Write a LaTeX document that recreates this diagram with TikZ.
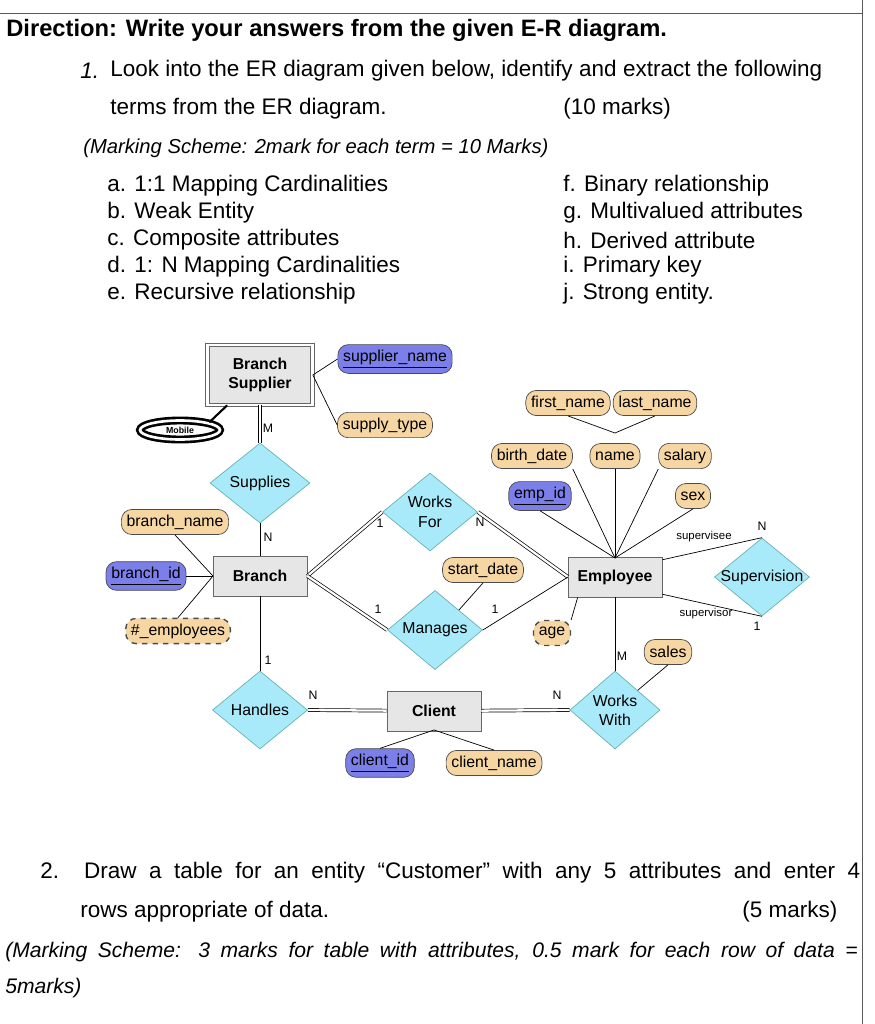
\documentclass[tikz,border=0pt]{standalone}
\usepackage{fontspec}
\setmainfont{Liberation Sans}
\usetikzlibrary{shapes,calc}

\definecolor{relblue}{HTML}{A8EAFA}
\definecolor{attrorange}{HTML}{F6D6A2}
\definecolor{keyblue}{HTML}{7C7EEA}
\definecolor{entgray}{HTML}{E6E6E6}

\tikzset{
  txt/.style={anchor=west,inner sep=0pt,font=\fontsize{12.8}{15}\selectfont},
  entity/.style={draw=gray!80!black,fill=entgray,minimum width=1.88cm,minimum height=0.8cm,font=\fontsize{9}{11}\selectfont\bfseries,align=center},
  rel/.style={diamond,draw=teal!60,fill=relblue,minimum width=1.9cm,minimum height=1.56cm,inner sep=0pt,font=\fontsize{9}{11}\selectfont,align=center},
  attr/.style={draw=black!70,fill=attrorange,rounded corners=6pt,minimum height=0.5cm,inner sep=3pt,font=\fontsize{9}{11}\selectfont},
  key/.style={attr,fill=keyblue},
  derived/.style={attr,dashed,thick},
  card/.style={inner sep=0pt,font=\fontsize{7}{8}\selectfont},
  role/.style={inner sep=0pt,font=\fontsize{6.5}{8}\selectfont},
  dbl/.style={double,double distance=1.3pt}
}

\begin{document}
\begin{tikzpicture}[x=0.02cm,y=-0.02cm]
\useasboundingbox (0,0) rectangle (875,1024);
\draw[gray!70!black] (0,13) -- (862,13);
\draw[gray!70!black] (862,0) -- (862,1024);

% question text
\node[txt,font=\fontsize{13.5}{15}\selectfont\bfseries] (dir) at (6,30) {Direction: Write your answers from the given E-R diagram.};
\node[txt] (q1) at (80,71) {\textit{1.}};
\node[txt] (q1a) at (110,71) {\makebox[14.24cm][s]{Look into the ER diagram given below, identify and extract the following}};
\node[txt] (q1b) at (110,109) {terms from the ER diagram.};
\node[txt] (q1m) at (563,109) {(10 marks)};
\node[txt,font=\fontsize{11.5}{13}\selectfont\itshape] (q1s) at (83,148) {(Marking Scheme: 2mark for each term = 10 Marks)};
\node[txt] (ta) at (107,186) {a. 1:1 Mapping Cardinalities};
\node[txt] (tb) at (107,213) {b. Weak Entity};
\node[txt] (tc) at (107,240) {c. Composite attributes};
\node[txt] (td) at (107,267) {d. 1: N Mapping Cardinalities};
\node[txt] (te) at (107,294) {e. Recursive relationship};
\node[txt] (tf) at (563,186) {f. Binary relationship};
\node[txt] (tg) at (563,213) {g. Multivalued attributes};
\node[txt] (th) at (563,240) {h. Derived attribute};
\node[txt] (ti) at (563,267) {i. Primary key};
\node[txt] (tj) at (563,294) {j. Strong entity.};
\node[txt] (q2) at (40,873) {\makebox[16.4cm][s]{2.\ \ Draw a table for an entity ``Customer'' with any 5 attributes and enter 4}};
\node[txt] (q2b) at (80,912) {rows appropriate of data.};
\node[txt] (q2m) at (742,912) {(5 marks)};
\node[txt,font=\fontsize{12}{13}\selectfont\itshape] (q2s) at (5,952) {\makebox[17.05cm][s]{(Marking Scheme: 3 marks for table with attributes, 0.5 mark for each row of data =}};
\node[txt,font=\fontsize{12}{13}\selectfont\itshape] (q2t) at (5,988) {5marks)};

% entities
\node[entity,minimum width=2.1cm,minimum height=1.2cm,double,double distance=1.5pt] (bsup) at (260,375) {Branch\\Supplier};
\node[entity] (branch) at (260,576) {Branch};
\node[entity] (emp) at (615,577) {Employee};
\node[entity] (client) at (434,711) {Client};

% relationships
\node[rel,minimum width=2cm,minimum height=1.6cm] (supplies) at (260,483) {Supplies};
\node[rel] (worksfor) at (430,512) {Works\\For};
\node[rel] (manages) at (435,630) {Manages};
\node[rel] (superv) at (762,577) {};
\node[font=\fontsize{9}{11}\selectfont,inner sep=0pt] (supervtxt) at (762,577) {Supervision};
\node[rel,minimum width=1.8cm] (workswith) at (615,710) {Works\\With};
\node[rel] (handles) at (260,710) {Handles};

% attributes
\node[key] (supname) at (395,359) {\underline{supplier\_name}};
\node[attr] (suptype) at (385,425) {supply\_type};
\node[draw,ellipse,line width=1.5pt,double,double distance=1.5pt,minimum width=1.6cm,minimum height=0.38cm,inner sep=0pt,font=\rmfamily\fontsize{5}{6}\selectfont\bfseries] (mobile) at (180,430) {Mobile};
\node[attr] (bname) at (175,522) {branch\_name};
\node[key] (bid) at (146,576) {\underline{branch\_id}};
\node[derived] (numemp) at (178,631) {\#\_employees};
\node[attr] (sdate) at (483,570) {start\_date};
\node[attr] (fname) at (568,403) {first\_name};
\node[attr] (lname) at (655,403) {last\_name};
\node[attr] (bdate) at (532,456) {birth\_date};
\node[attr] (name) at (615,456) {name};
\node[attr] (salary) at (685,456) {salary};
\node[key] (eid) at (540,496) {\underline{emp\_id}};
\node[attr] (sex) at (693,496) {sex};
\node[derived] (age) at (552,633) {age};
\node[attr] (sales) at (668,652) {sales};
\node[key] (cid) at (380,763) {\underline{client\_id}};
\node[attr] (cname) at (494,763) {client\_name};

% helper points
\coordinate (bjoin) at (213,576);
\coordinate (etop) at (615,558);
\coordinate (ejoin) at (568,577);
\coordinate (njoin) at (615,433);
\coordinate (ctop) at (434,730);

% connectors
\draw[dbl] (bsup) -- (supplies.north);
\draw (supplies.south) -- (branch);
\draw (bsup.east) -- (supname.west);
\draw (bsup.east) -- (suptype.west);
\draw[line width=1.2pt] (mobile.north east) -- ($(bsup.south west)+(20,0)$);
\draw (bname.south) -- (bjoin);
\draw (bid) -- (bjoin);
\draw (numemp.north) -- (bjoin);
\draw[dbl] (branch.east) -- (worksfor.west);
\draw[dbl] (branch.east) -- (manages.west);
\draw[dbl] (worksfor.east) -- (ejoin);
\draw (manages.east) -- (ejoin);
\draw (manages.north east) -- (sdate.south);
\draw (fname.south) -- (njoin);
\draw (lname.south) -- (njoin);
\draw (name) -- (etop);
\draw (bdate.south east) -- (etop);
\draw (salary.south west) -- (etop);
\draw (eid.south) -- (etop);
\draw (sex.south) -- (etop);
\draw (emp.20) -- (superv.north);
\draw (emp.-20) -- (superv.south);
\draw (age.north east) -- ($(emp.south west)+(10,0)$);
\draw (emp) -- (workswith.north);
\draw (workswith.north east) -- (sales.south);
\draw[dbl] (client) -- (workswith.west);
\draw[dbl] (handles.east) -- (client);
\draw (branch) -- (handles.north);
\draw (ctop) -- (cid.north);
\draw (ctop) -- (cname.north);

% cardinalities and roles
\node[card] (c1) at (268,428) {M};
\node[card] (c2) at (268,537) {N};
\node[card] (c3) at (380,523) {1};
\node[card] (c4) at (480,522) {N};
\node[card] (c5) at (378,609) {1};
\node[card] (c6) at (495,609) {1};
\node[card] (c7) at (268,660) {1};
\node[card] (c8) at (313,695) {N};
\node[card] (c9) at (557,695) {N};
\node[card] (c10) at (622,656) {M};
\node[card] (c11) at (762,526) {N};
\node[card] (c12) at (757,626) {1};
\node[role] (r1) at (704,537) {supervisee};
\node[role] (r2) at (706,614) {supervisor};
\end{tikzpicture}
\end{document}
